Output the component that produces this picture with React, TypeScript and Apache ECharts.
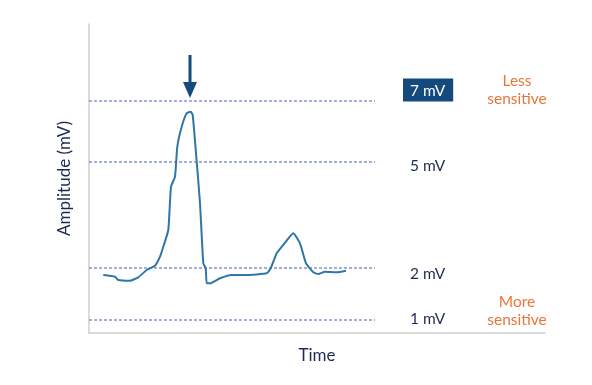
import React, { useEffect, useRef } from "react";
import * as echarts from "echarts";

// Trace (time units, amplitude display units)
const traceTime = [14.3, 26, 29.3, 41, 49.3, 57.7, 66, 71, 74.3, 79.3, 82, 86, 88.3, 92.7, 97.7, 101.7, 103.7, 107, 111, 114.3, 116.7, 117.7, 121, 131, 142.7, 157.7, 177.7, 181.7, 187.7, 194.3, 204.3, 211, 217, 224.3, 229.3, 236, 247.7, 257];
const traceAmp = [58, 56.3, 53, 52.3, 55.7, 63, 67.3, 76.3, 86.3, 103, 146.3, 156.3, 186.3, 206.3, 219.7, 221.3, 218, 179.7, 130, 69.7, 64.7, 49.7, 49.7, 54.7, 58, 58, 59.7, 64.7, 79.7, 88, 99.7, 89.7, 69.7, 60.7, 59, 61.3, 60.7, 62.3];

// Sensitivity levels: label and vertical position (display units)
const levelLabels = ["7 mV", "5 mV", "2 mV", "1 mV"];
const levelPos = [232, 171, 65, 13];
const levelEnd = 286;
const peakTime = 101;
const sideNotes = [["Less", "sensitive"], ["More", "sensitive"]];

const NAVY = "#1d2b50";
const ORANGE = "#e8763a";
const FONT = "Lato, 'Open Sans', sans-serif";

export default function App() {
  const ref = useRef<HTMLDivElement>(null);
  useEffect(() => {
    const chart = echarts.init(ref.current!, null, { renderer: "svg" });
    const levelSeries = levelPos.map((p, i) => ({
      type: "line",
      name: levelLabels[i],
      data: [[0, p], [levelEnd, p]],
      symbol: "none",
      lineStyle: { color: "#4a64b0", width: 1.2, type: [3, 2] },
      silent: true,
    }));
    chart.setOption({
      animation: false,
      grid: { left: 89, top: 24, right: 47, bottom: 52 },
      xAxis: {
        type: "value", min: 0, max: 456,
        axisLine: { show: true, lineStyle: { color: "#cfcfcf", width: 1.5 } },
        axisTick: { show: false }, axisLabel: { show: false }, splitLine: { show: false },
        name: "Time", nameLocation: "middle", nameGap: 13,
        nameTextStyle: { color: NAVY, fontSize: 17, fontFamily: FONT },
      },
      yAxis: {
        type: "value", min: 0, max: 309,
        axisLine: { show: true, lineStyle: { color: "#cfcfcf", width: 1.5 } },
        axisTick: { show: false }, axisLabel: { show: false }, splitLine: { show: false },
        name: "Amplitude (mV)", nameLocation: "middle", nameGap: 17,
        nameTextStyle: { color: NAVY, fontSize: 17, fontFamily: FONT },
      },
      series: [
        ...levelSeries,
        {
          type: "line",
          data: traceTime.map((t, i) => [t, traceAmp[i]]),
          symbol: "none",
          smooth: 0.15,
          lineStyle: { color: "#2f76a9", width: 2 },
        },
      ],
    });
    const offsets = [-11, 3, 5, -2];
    const g: any[] = [];
    levelPos.forEach((p, i) => {
      const [, py] = chart.convertToPixel({ gridIndex: 0 }, [0, p]);
      const isTop = i === 0;
      g.push({
        type: "text",
        x: isTop ? 403 : 410,
        y: py + offsets[i],
        style: {
          text: levelLabels[i],
          fill: isTop ? "#ffffff" : NAVY,
          fontSize: 15.5,
          fontFamily: FONT,
          verticalAlign: "middle",
          backgroundColor: isTop ? "#154a7e" : undefined,
          padding: isTop ? [4, 8, 3, 7] : 0,
        },
      });
    });
    const noteY = [[80, 98], [301, 319]];
    sideNotes.forEach((lines, k) => {
      lines.forEach((t, j) => {
        g.push({
          type: "text", x: 517, y: noteY[k][j],
          style: { text: t, fill: ORANGE, fontSize: 15.5, lineHeight: 15, align: "center", verticalAlign: "middle", fontFamily: FONT },
        });
      });
    });
    const [ax] = chart.convertToPixel({ gridIndex: 0 }, [peakTime, 0]);
    g.push({ type: "rect", shape: { x: ax - 1.5, y: 55, width: 3, height: 30 }, style: { fill: "#154a7e" } });
    g.push({ type: "polygon", shape: { points: [[ax - 7, 82], [ax + 7, 82], [ax, 98]] }, style: { fill: "#154a7e" } });
    chart.setOption({ graphic: g });
    return () => chart.dispose();
  }, []);
  return <div ref={ref} style={{ position: "fixed", left: 0, top: 0, width: 592, height: 385 }} />;
}
